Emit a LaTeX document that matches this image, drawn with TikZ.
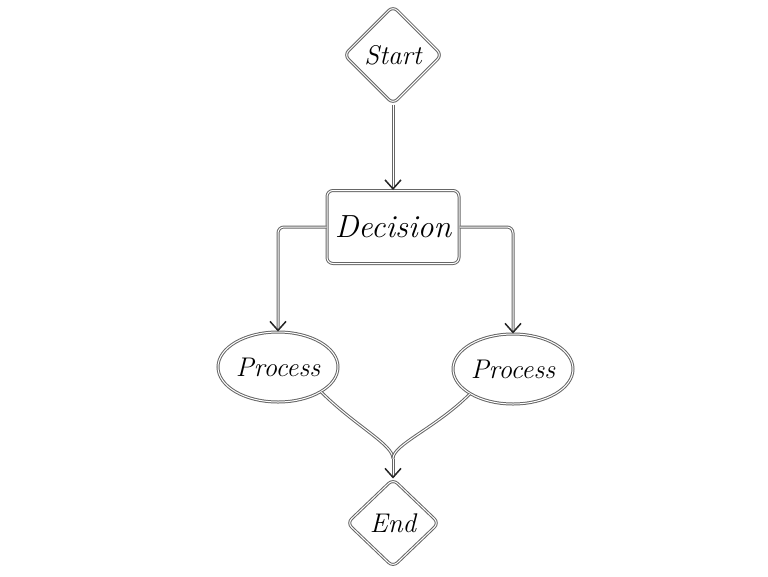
\documentclass[tikz,border=0pt]{standalone}
\usepackage{tikz}
\usetikzlibrary{arrows.meta}
\usetikzlibrary{positioning,shapes}
\usetikzlibrary{shapes.geometric}

\tikzset{
    outline/.style={draw=black!60, double=white, double distance=1pt, line width=1pt},
    term/.style={outline, diamond, rounded corners=6pt, inner sep=0pt, minimum width=98pt, minimum height=98pt, font=\fontsize{27}{29}\selectfont\itshape},
    choice/.style={outline, rectangle, rounded corners=6pt, minimum width=132pt, minimum height=73pt, font=\fontsize{32}{34}\selectfont\itshape},
    proc/.style={outline, ellipse, inner sep=0pt, minimum width=120pt, minimum height=70pt, font=\fontsize{27}{29}\selectfont\itshape},
    link/.style={outline, rounded corners=6pt},
    tip/.style={-{Straight Barb[length=9pt,width=16pt,line width=1.5pt,color=black!85]}}
}

\begin{document}
\begin{tikzpicture}
            \useasboundingbox (0,0) rectangle (768pt,-576pt);
            \node[term] (start) at (393pt,-55pt) {Start};
            \node[choice, node distance=172pt, below of=start] (dec) {Decision};
            \node[proc, node distance=140pt, below of=dec, xshift=-115pt] (pl) {Process};
            \node[proc, node distance=142pt, below of=dec, xshift=120pt] (pr) {Process};
            \node[term, node distance=296pt, below of=dec, minimum width=92pt, minimum height=88pt] (end) {End};
            \coordinate[above=20pt of end.north] (join);
    	    \draw[link, tip] (start.south) -- (dec.north);
    	    \draw[link, tip] (dec.west) -| (pl.north);
    	    \draw[link, tip] (dec.east) -| (pr.north);
    	    \draw[link] (pl.-30) .. controls +(-45:48pt) and +(0,14pt) .. (join);
    	    \draw[link] (pr.-150) .. controls +(-135:48pt) and +(0,14pt) .. (join);
    	    \draw[link, tip] (join) -- (end);
    	\end{tikzpicture}
\end{document}
